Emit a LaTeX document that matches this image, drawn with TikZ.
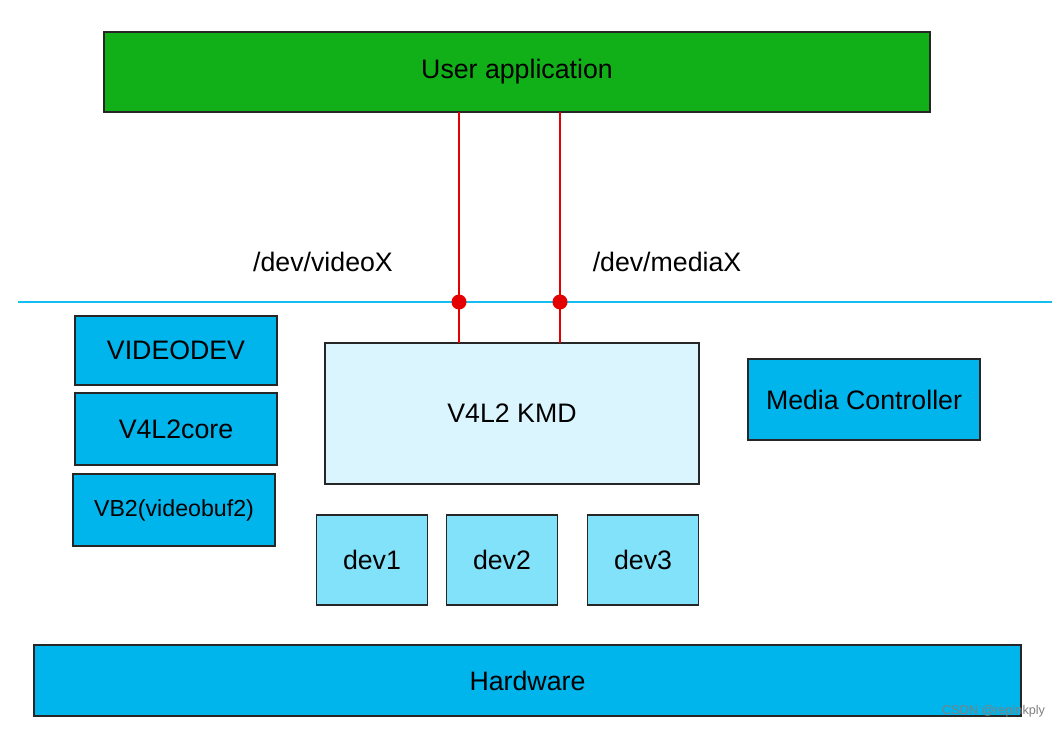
\documentclass[tikz,border=0pt]{standalone}
\usepackage{fontspec}
\setmainfont{Liberation Sans}
\usetikzlibrary{positioning}
\definecolor{appgreen}{RGB}{18,176,24}
\definecolor{kblue}{RGB}{0,180,236}
\definecolor{kmdfill}{RGB}{218,245,253}
\definecolor{devfill}{RGB}{130,226,250}
\definecolor{busline}{RGB}{20,190,240}
\tikzstyle{block} = [rectangle, draw=black!85, line width=1.3pt, inner sep=0pt, text centered, font=\fontsize{19}{21}\selectfont]
\tikzstyle{kernel} = [block, fill=kblue]
\tikzstyle{dev} = [block, fill=devfill, minimum width=111*0.025cm, minimum height=90*0.025cm]
\tikzstyle{link} = [red!90!black, line width=1.5pt]
\begin{document}
\begin{tikzpicture}[x=0.025cm, y=-0.025cm]
	\useasboundingbox (0,0) rectangle (1064,729);

	\node (app) [block, fill=appgreen, minimum width=826*0.025cm, minimum height=80*0.025cm] at (517,72) {User application};
	\node (vdev) [kernel, minimum width=202*0.025cm, minimum height=69*0.025cm] at (176,350.5) {VIDEODEV};
	\node (core) [kernel, minimum width=202*0.025cm, minimum height=72*0.025cm] at (176,429) {V4L2core};
	\node (vb2) [kernel, minimum width=202*0.025cm, minimum height=72*0.025cm, font=\fontsize{16.5}{18}\selectfont] at (174,510) {VB2(videobuf2)};
	\node (kmd) [block, fill=kmdfill, minimum width=374*0.025cm, minimum height=141*0.025cm] at (512,413.5) {V4L2 KMD};
	\node (mc) [kernel, minimum width=232*0.025cm, minimum height=81*0.025cm] at (864,399.5) {Media Controller};
	\node (dev1) [dev] at (372,560) {dev1};
	\node (dev2) [dev] at (502,560) {dev2};
	\node (dev3) [dev] at (643,560) {dev3};
	\node (hw) [kernel, minimum width=987*0.025cm, minimum height=71*0.025cm] at (527.5,680.5) {Hardware};

	% user/kernel boundary
	\coordinate (busl) at (18,302);
	\coordinate (busr) at (1052,302);
	\draw [busline, line width=1.5pt] (busl) -- (busr);

	\coordinate (vtop) at (459,112);
	\coordinate (vbot) at (459,343);
	\coordinate (mtop) at (560,112);
	\coordinate (mbot) at (560,343);
	\draw [link] (vtop) -- (vbot);
	\draw [link] (mtop) -- (mbot);
	\fill [red!90!black] (459,302) circle (7.5);
	\fill [red!90!black] (560,302) circle (7.5);

	\node (vlabel) [font=\fontsize{19}{21}\selectfont] at (323,262) {/dev/videoX};
	\node (mlabel) [font=\fontsize{19}{21}\selectfont] at (667,262) {/dev/mediaX};
	\node (mark) [gray, font=\fontsize{9}{10}\selectfont, anchor=east] at (1050,711) {CSDN @repinkply};

\end{tikzpicture}
\end{document}
